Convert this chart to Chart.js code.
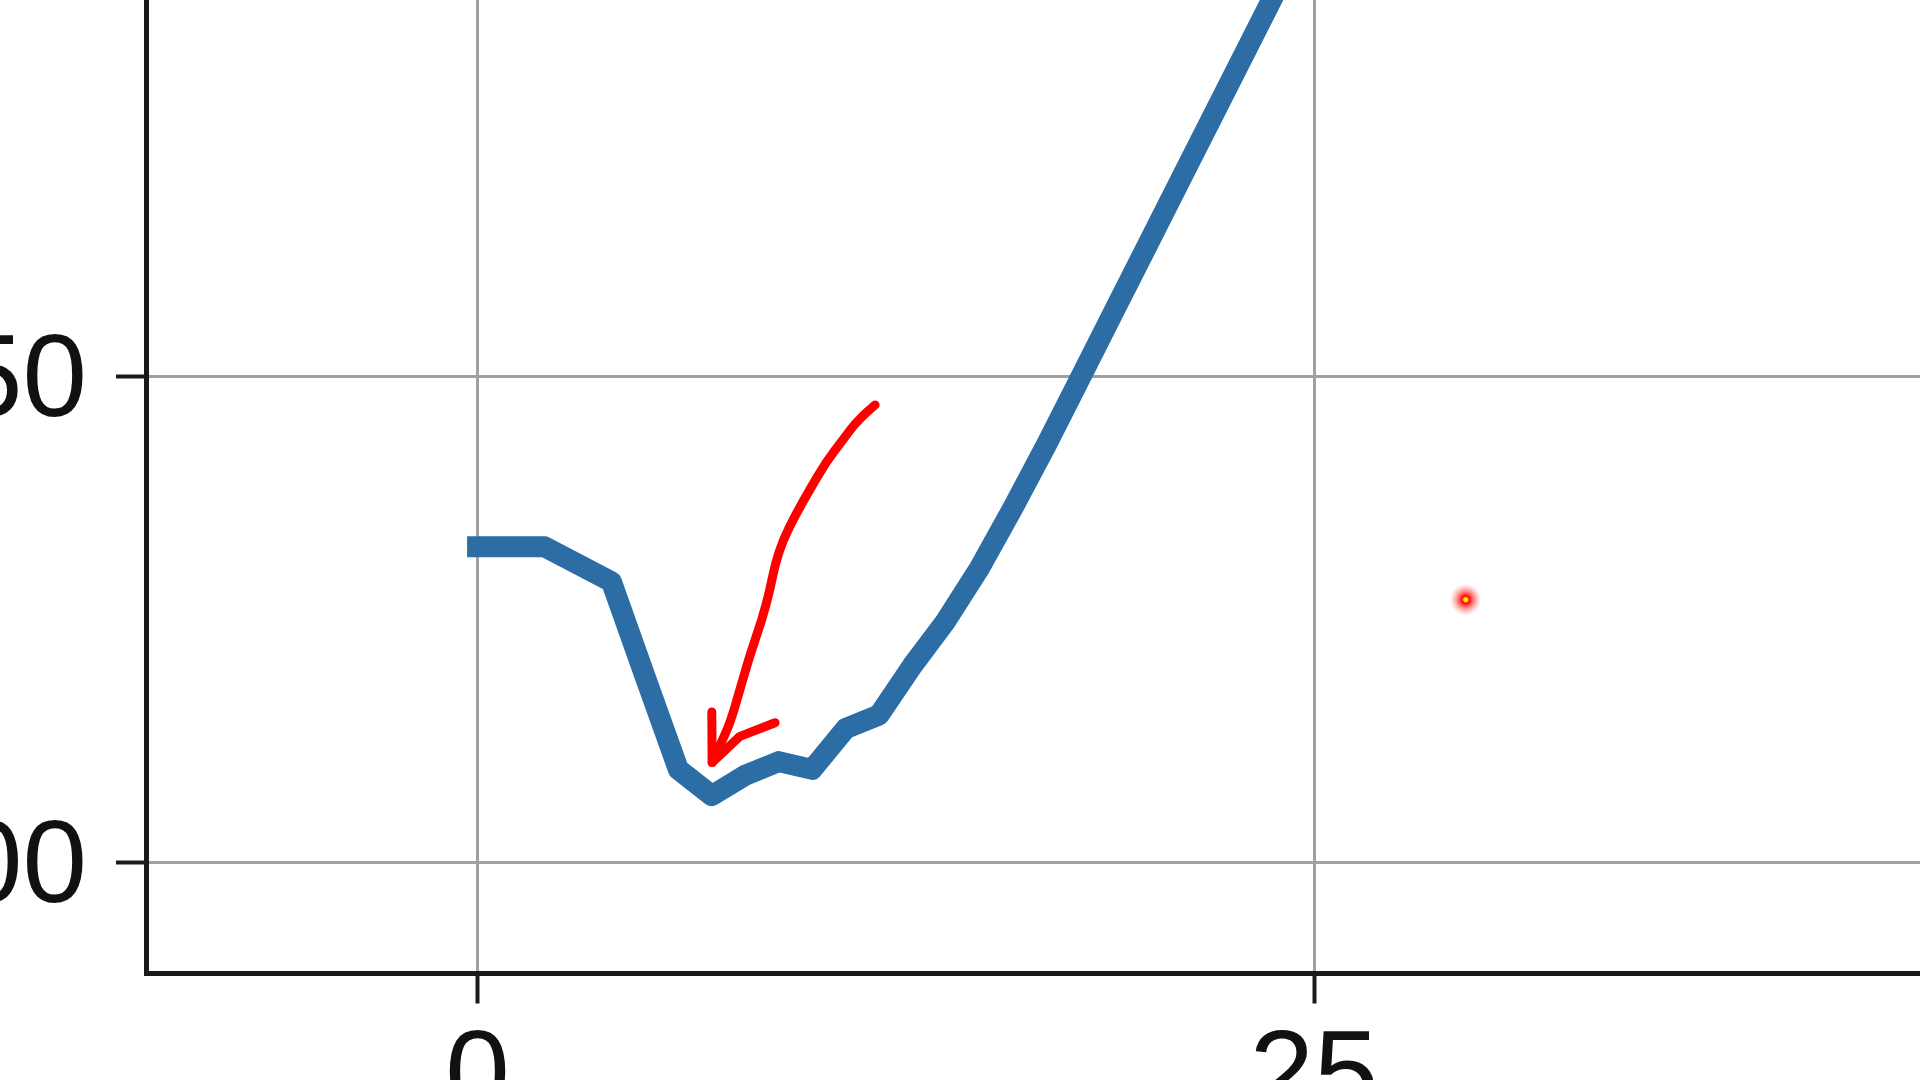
<!DOCTYPE html>
<html>
<head>
<meta charset="utf-8">
<script src="https://cdn.jsdelivr.net/npm/chart.js@4.4.0/dist/chart.umd.min.js"></script>
<style>
html, body { margin: 0; padding: 0; background: #fff; overflow: hidden; width: 1920px; height: 1080px; }
#c { position: absolute; left: 0; top: -320px; }
</style>
</head>
<body>
<canvas id="c" width="2500" height="1500"></canvas>
<script>
// series
const xValues = [0, 1, 2, 3, 4, 5, 6, 7, 8, 9, 10, 11, 12, 13, 14, 15, 16, 17, 18, 19, 20, 21, 22, 23, 24]
const yValues = [132.5, 132.5, 132.5, 130.7, 128.9, 119.2, 109.6, 106.9, 109.0, 110.4, 109.6, 113.8, 115.2,
    120.3, 124.9, 130.3, 136.5, 143.0, 149.8, 156.6, 163.4, 170.2, 177.0, 183.8, 190.6]

const xTicks = [0, 25, 50]
const yTicks = [100, 150, 200]

// hand drawn marks, in data units
const dotPoint = [29.53, 127.06]
const arrowPath = [[11.88, 147.1], [11.37, 145.6], [10.92, 143.5], [10.41, 141.2], [9.93, 138.4], [9.49, 135.7],
    [9.13, 133.2], [8.89, 130.7], [8.74, 128.1], [8.50, 125.0], [8.14, 121.4], [7.84, 117.8], [7.55, 114.4],
    [7.25, 112.1], [7.01, 110.3]]
const arrowHead = [[7.0, 115.5], [7.01, 110.3], [7.84, 113.0], [8.89, 114.4]]

const annotations = {
    id: 'annotations',
    afterDatasetsDraw(chart) {
        const {ctx, scales: {x, y}} = chart
        const px = p => [x.getPixelForValue(p[0]), y.getPixelForValue(p[1])]

        ctx.save()
        ctx.strokeStyle = '#ff0000'
        ctx.lineWidth = 9
        ctx.lineCap = 'round'
        ctx.lineJoin = 'round'

        // arrow shaft, smoothed through the midpoints
        const pts = arrowPath.map(px)
        ctx.beginPath()
        ctx.moveTo(pts[0][0], pts[0][1])
        for (let i = 1; i < pts.length - 1; i++) {
            const mx = (pts[i][0] + pts[i + 1][0]) / 2
            const my = (pts[i][1] + pts[i + 1][1]) / 2
            ctx.quadraticCurveTo(pts[i][0], pts[i][1], mx, my)
        }
        ctx.lineTo(pts[pts.length - 1][0], pts[pts.length - 1][1])
        ctx.stroke()

        ctx.beginPath()
        arrowHead.forEach((p, i) => {
            const [a, b] = px(p)
            if (i === 0) ctx.moveTo(a, b)
            else ctx.lineTo(a, b)
        })
        ctx.stroke()

        // glowing red dot
        const [dx, dy] = px(dotPoint)
        const g = ctx.createRadialGradient(dx, dy, 0, dx, dy, 16)
        g.addColorStop(0, 'rgba(255,255,0,1)')
        g.addColorStop(0.12, 'rgba(255,230,0,1)')
        g.addColorStop(0.22, 'rgba(255,0,0,1)')
        g.addColorStop(0.5, 'rgba(255,60,60,0.65)')
        g.addColorStop(1, 'rgba(255,140,140,0)')
        ctx.fillStyle = g
        ctx.beginPath()
        ctx.arc(dx, dy, 16, 0, Math.PI * 2)
        ctx.fill()
        ctx.restore()
    }
}

const font = {family: 'Liberation Sans', size: 116}

new Chart(document.getElementById('c'), {
    type: 'line',
    data: {
        datasets: [{
            data: xValues.map((v, i) => ({x: v, y: yValues[i]})),
            borderColor: '#2c6da6',
            borderWidth: 21,
            borderCapStyle: 'square',
            borderJoinStyle: 'round',
            pointRadius: 0,
            tension: 0,
            fill: false
        }]
    },
    options: {
        responsive: false,
        animation: false,
        devicePixelRatio: 1,
        layout: {padding: {left: 0, right: 14.8, top: 16.3, bottom: 0}},
        plugins: {legend: {display: false}, tooltip: {enabled: false}},
        scales: {
            x: {
                type: 'linear',
                min: -9.91,
                max: 60,
                afterFit: s => {
                    s.height = 206.5
                    s.paddingLeft = 0
                    s.paddingRight = 0
                },
                afterBuildTicks: s => { s.ticks = xTicks.map(v => ({value: v})) },
                grid: {color: '#a0a0a0', lineWidth: 3, tickLength: 30, tickColor: '#1a1a1a', tickWidth: 4},
                border: {color: '#1a1a1a', width: 5},
                ticks: {font, color: '#111', padding: 7, maxRotation: 0, includeBounds: false}
            },
            y: {
                type: 'linear',
                min: 88.6,
                max: 220,
                afterFit: s => {
                    s.width = 146
                    s.paddingTop = 0
                    s.paddingBottom = 0
                },
                afterBuildTicks: s => { s.ticks = yTicks.map(v => ({value: v})) },
                grid: {color: '#a0a0a0', lineWidth: 3, tickLength: 30, tickColor: '#1a1a1a', tickWidth: 4},
                border: {color: '#1a1a1a', width: 5},
                ticks: {font, color: '#111', padding: 29, labelOffset: 7, includeBounds: false}
            }
        }
    },
    plugins: [annotations]
})
</script>
</body>
</html>
